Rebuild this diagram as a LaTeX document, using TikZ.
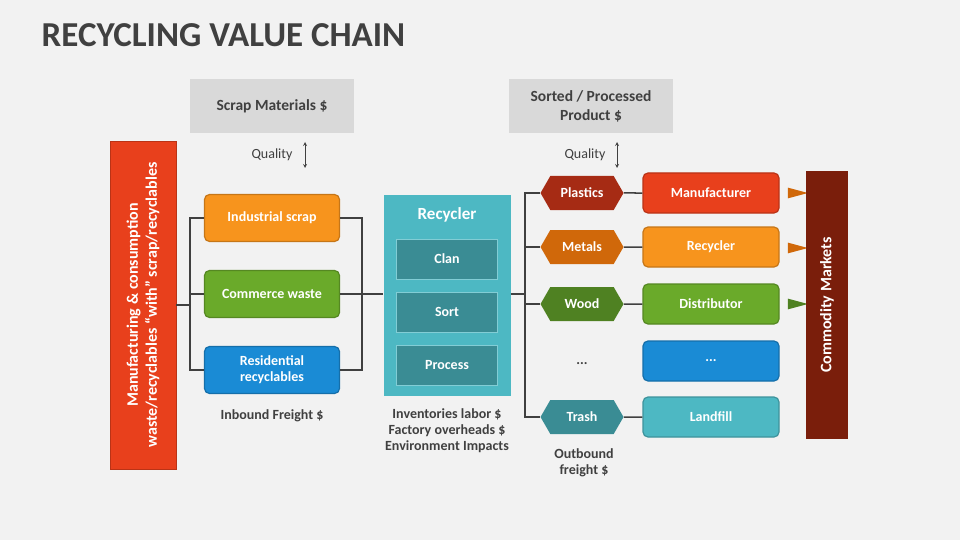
\documentclass[tikz,border=0pt]{standalone}
\usepackage{fontspec}
\setmainfont{Carlito}
\usetikzlibrary{positioning, shapes.geometric, shapes.symbols}
\definecolor{cred}{HTML}{E8401C}
\definecolor{corange}{HTML}{F7941D}
\definecolor{cgreen}{HTML}{6AAA2A}
\definecolor{cblue}{HTML}{1A8BD5}
\definecolor{cteal}{HTML}{4DB8C3}
\definecolor{cdteal}{HTML}{3A8C94}
\definecolor{cbrown}{HTML}{7A1E0B}
\definecolor{cmetal}{HTML}{D0680A}
\definecolor{cplast}{HTML}{A62B14}
\definecolor{cwood}{HTML}{4F8122}
\definecolor{cline}{HTML}{404040}

\begin{document}
\begin{tikzpicture}[x=1pt, y=-1pt, thick,
  font=\fontsize{14}{16}\selectfont\bfseries,
  box/.style = {draw=#1!80!black, fill=#1, rounded corners=5pt, line width=1.2pt, text=white, minimum width=135pt, minimum height=47pt, align=center},
  obox/.style = {box=#1, minimum width=136pt, minimum height=40pt},
  hexa/.style = {signal, signal to=east and west, signal pointer angle=120, fill=#1, text=white, minimum width=83pt, minimum height=34pt, inner sep=0pt},
  head/.style = {fill=#1, draw=#1, text=cline, minimum width=163pt, minimum height=53pt, align=center, font=\fontsize{15.5}{19}\selectfont\bfseries},
  inner/.style = {draw=cteal!70!white, fill=cdteal, text=white, minimum width=101pt, minimum height=40pt},
  tip/.style = {isosceles triangle, isosceles triangle apex angle=30, fill=#1, minimum height=20pt, inner sep=0pt},
  link/.style = {cline, line width=1.5pt},
  big/.style = {font=\fontsize{16}{19}\selectfont\bfseries},
  note/.style = {text=cline, align=center}]
  \fill[black!5] (0,0) rectangle (960,540);
  \useasboundingbox (0,0) rectangle (960,540);

  \node[anchor=west, text=cline, font=\fontsize{35}{40}\selectfont\bfseries] (title) at (38,35) {RECYCLING VALUE CHAIN};

  \node[fill=cred, draw=cred!80!black, minimum width=66pt, minimum height=328pt] (src) at (143,305) {};
  \node[rotate=90, text=white, align=center, big] at (src) {Manufacturing \& consumption\\waste/recyclables “with” scrap/recyclables};

  \node[head=black!15] (scrap) at (272,106) {Scrap Materials \$};
  \node[head=black!15] (sorted) at (591,106) {Sorted / Processed\\Product \$};
  \node[note, font=\fontsize{14}{16}\selectfont] (q1) at (272,155) {Quality};
  \node[note, font=\fontsize{14}{16}\selectfont] (q2) at (585,155) {Quality};
  \coordinate (q1a) at (305,142); \coordinate (q1b) at (305,168);
  \coordinate (q2a) at (617,142); \coordinate (q2b) at (617,168);
  \draw[<->, >=stealth, cline] (q1a) -- (q1b);
  \draw[<->, >=stealth, cline] (q2a) -- (q2b);

  \node[box=corange] (ind) at (272,218) {Industrial scrap};
  \node[box=cgreen] (com) at (272,294) {Commerce waste};
  \node[box=cblue] (res) at (272,370) {Residential\\recyclables};
  \node[note] (inb) at (272,416) {Inbound Freight \$};

  \node[fill=cteal, minimum width=127pt, minimum height=201pt] (rec) at (447,295) {};
  \node[text=white, font=\fontsize{17}{19}\selectfont\bfseries] (rect) at (447,215) {Recycler};
  \node[inner] (clan) at (447,259) {Clan};
  \node[inner] (sort) at (447,312) {Sort};
  \node[inner] (proc) at (447,365) {Process};
  \node[note] (cost) at (447,431) {Inventories labor \$\\Factory overheads \$\\Environment Impacts};

  \node[hexa=cplast] (pla) at (582,193) {Plastics};
  \node[hexa=cmetal] (met) at (582,247) {Metals};
  \node[hexa=cwood] (woo) at (582,304) {Wood};
  \node[text=cline] (dots) at (582,364) {...};
  \node[hexa=cdteal] (tra) at (582,417) {Trash};
  \node[note] (outb) at (584,463) {Outbound\\freight \$};

  \node[obox=cred] (man) at (711,193) {Manufacturer};
  \node[obox=corange] (rcy) at (711,247) {Recycler};
  \node[obox=cgreen] (dis) at (711,304) {Distributor};
  \node[obox=cblue] (mor) at (711,361) {...};
  \node[obox=cteal] (lan) at (711,417) {Landfill};

  \node[tip=cmetal] (t1) at (792,193) {};
  \node[tip=cmetal] (t2) at (792,248) {};
  \node[tip=cwood] (t3) at (792,304) {};

  \node[fill=cbrown, minimum width=42pt, minimum height=268pt] (mkt) at (827,305) {};
  \node[rotate=90, text=white, big] at (mkt) {Commodity Markets};

  % left bracket
  \coordinate (lb) at (190,305);
  \draw[link] (src.east |- lb) -- (lb);
  \draw[link] (ind.west) -| (lb) |- (res.west);
  \draw[link] (com.west) -- (com.west -| lb);
  % middle bracket
  \coordinate (mb) at (362,294);
  \draw[link] (ind.east) -| (mb) |- (res.east);
  \draw[link] (com.east) -- (rec.west |- com);
  % right bracket
  \coordinate (rb) at (525,294);
  \draw[link] (rec.east |- rb) -- (rb);
  \draw[link] (pla.west) -| (rb) |- (tra.west);
  \draw[link] (met.west) -- (met.west -| rb);
  \draw[link] (woo.west) -- (woo.west -| rb);
  \draw[link] (pla) -- (man);
  \draw[link] (met) -- (rcy);
  \draw[link] (woo) -- (dis);
  \draw[link] (tra) -- (lan);
\end{tikzpicture}
\end{document}
